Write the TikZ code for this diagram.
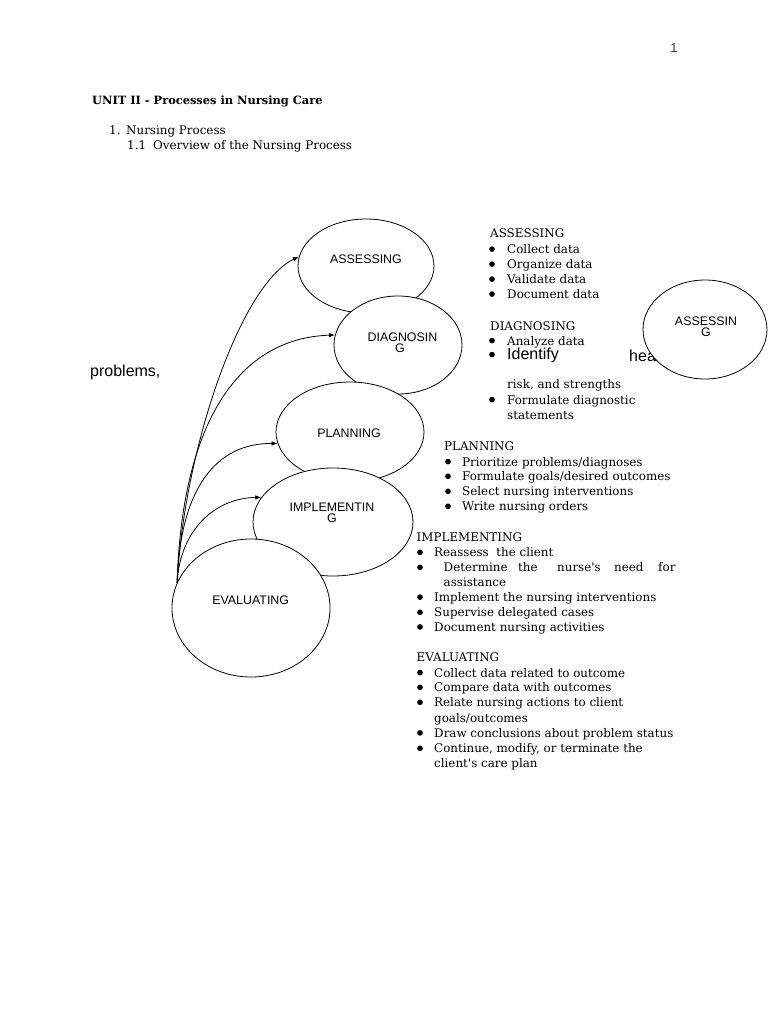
\documentclass[tikz,border=0pt]{standalone}
\usepackage{fontspec}
\setmainfont{DejaVu Serif}
\newfontfamily\sansf{Liberation Sans}
\newfontfamily\serf{DejaVu Serif}
\usetikzlibrary{arrows.meta,shapes.geometric}
\begin{document}
\begin{tikzpicture}[x=1pt,y=-1pt,
  txt/.style={anchor=base west,inner sep=0pt,font=\serf\fontsize{11.9}{15}\selectfont},
  bold/.style={anchor=base west,inner sep=0pt,font=\serf\bfseries\fontsize{11.4}{15}\selectfont},
  sanstxt/.style={anchor=base west,inner sep=0pt,font=\sansf\fontsize{16}{18}\selectfont},
  elab/.style={anchor=base,inner sep=0pt,font=\sansf\fontsize{12.4}{12}\selectfont},
  stage/.style={draw,ellipse,fill=white,line width=0.8pt,inner sep=0pt},
  flow/.style={line width=0.8pt,-{Latex[length=6pt,width=4.5pt]}},
  dot/.style={fill=black}]
\useasboundingbox (0,0) rectangle (768,1024);
\fill[white] (0,0) rectangle (768,1024);

% header
\node[anchor=center,inner sep=0pt,font=\sansf\fontsize{13}{15}\selectfont,text=black!75] (pg) at (674,48) {1};
\node[bold] (unit) at (92,105) {UNIT II - Processes in Nursing Care};
\node[txt] (n1) at (109,135) {1.};
\node[txt] (n1t) at (126,135) {Nursing Process};
\node[txt] (n11) at (127,150) {1.1};
\node[txt] (n11t) at (153,150) {Overview of the Nursing Process};

% ellipses
\node[stage,minimum width=136pt,minimum height=94pt] (ass) at (366,266) {};
\node[stage,minimum width=128pt,minimum height=98pt] (dia) at (398,345) {};
\node[stage,minimum width=148pt,minimum height=100pt] (pla) at (350,432) {};
\node[stage,minimum width=160pt,minimum height=108pt] (imp) at (333,522) {};
\node[stage,minimum width=158pt,minimum height=138pt] (eva) at (251,608) {};

\node[elab] (tass) at (366,263.3) {ASSESSING};
\node[elab] (tdia) at (402.5,341.2) {DIAGNOSIN};
\node[elab] (tdiag) at (400,352.7) {G};
\node[elab] (tpla) at (349,437.5) {PLANNING};
\node[elab] (timp) at (332,511) {IMPLEMENTIN};
\node[elab] (timpg) at (332,522.7) {G};
\node[elab] (teva) at (250.7,604) {EVALUATING};

% connectors
\draw[flow] (eva.161) .. controls (184,450) and (240,285) .. (ass.172);
\draw[flow] (eva.161) .. controls (182,420) and (240,338) .. (dia.171);
\draw[flow] (eva.161) .. controls (180,490) and (215,443) .. (pla.189);
\draw[flow] (eva.161) .. controls (180,530) and (215,498) .. (imp.161);

% left stray text
\node[sanstxt] (prob) at (90,376) {problems,};

% ASSESSING list
\node[txt] (ha) at (490,237.7) {ASSESSING};
\foreach \y/\t in {253.5/{Collect data},268.5/{Organize data},283.5/{Validate data},298.5/{Document data}}{
  \fill[dot] (492,\y-4.4) circle (2.85pt);
  \node[txt] at (507,\y) {\t};
}
% DIAGNOSING list
\node[txt] (hd) at (490,330) {DIAGNOSING};
\fill[dot] (492,345-4.4) circle (2.85pt);
\node[txt] (anl) at (507,345) {Analyze data};
\fill[dot] (492,359-4.4) circle (2.85pt);
\node[sanstxt] (ident) at (507,359) {Identify};
\node[sanstxt] (hea) at (629,361) {hea};
\node[txt] (risk) at (507,388.5) {risk, and strengths};
\fill[dot] (492,404-4.4) circle (2.85pt);
\node[txt] (fdx) at (507,404) {Formulate diagnostic};
\node[txt] (stm) at (507,419) {statements};

% right ellipse (covers text)
\node[stage,minimum width=124pt,minimum height=99pt] (ass2) at (705,329.5) {};
\node[elab] (tass2) at (706,325) {ASSESSIN};
\node[elab] (tass2g) at (706,336.7) {G};

% PLANNING list
\node[txt] (hp) at (444,450) {PLANNING};
\foreach \y/\t in {466/{Prioritize problems/diagnoses},480.7/{Formulate goals/desired outcomes},495.7/{Select nursing interventions},510.7/{Write nursing orders}}{
  \fill[dot] (448,\y-4.4) circle (2.85pt);
  \node[txt] at (462,\y) {\t};
}

% IMPLEMENTING list
\node[txt] (hi) at (416.5,541.7) {IMPLEMENTING};
\fill[dot] (420,556.7-4.4) circle (2.85pt);
\node[txt] (reas) at (434,556.7) {Reassess\ \ the client};
\fill[dot] (420,571.7-4.4) circle (2.85pt);
\node[txt] (w1) at (443.5,571.7) {Determine};
\node[txt] (w2) at (518,571.7) {the};
\node[txt] (w3) at (557,571.7) {nurse's};
\node[txt] (w4) at (614,571.7) {need};
\node[txt] (w5) at (658,571.7) {for};
\node[txt] (asst) at (443.5,586.7) {assistance};
\foreach \y/\t in {601.5/{Implement the nursing interventions},616.7/{Supervise delegated cases},631.3/{Document nursing activities}}{
  \fill[dot] (420,\y-4.4) circle (2.85pt);
  \node[txt] at (434,\y) {\t};
}

% EVALUATING list
\node[txt] (he) at (416.5,661.7) {EVALUATING};
\foreach \y/\t in {677/{Collect data related to outcome},691.7/{Compare data with outcomes},706.7/{Relate nursing actions to client},737.3/{Draw conclusions about problem status},752.7/{Continue, modify, or terminate the}}{
  \fill[dot] (420,\y-4.4) circle (2.85pt);
  \node[txt] at (434,\y) {\t};
}
\node[txt] (goal) at (434,722.3) {goals/outcomes};
\node[txt] (ccp) at (434,767.7) {client's care plan};
\end{tikzpicture}
\end{document}
